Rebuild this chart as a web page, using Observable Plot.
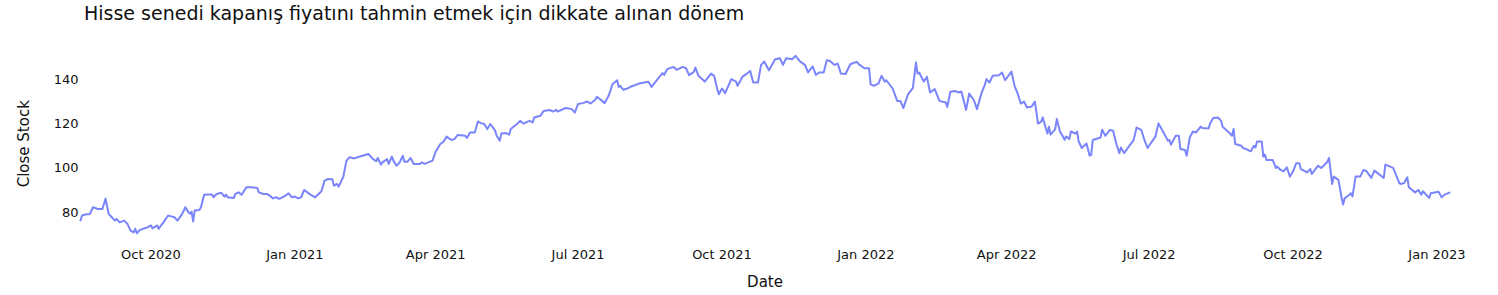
<!DOCTYPE html>
<html><head><meta charset="utf-8">
<script src="https://cdn.jsdelivr.net/npm/d3@7"></script>
<script src="https://cdn.jsdelivr.net/npm/@observablehq/plot@0.6"></script>
<style>
body{margin:0;background:#fff;font-family:"DejaVu Sans",Verdana,sans-serif;}
#title{height:30px;padding-left:84px;font-size:19px;line-height:27px;color:#111;white-space:nowrap;}
</style></head><body>
<div id="title">Hisse senedi kapanış fiyatını tahmin etmek için dikkate alınan dönem</div>
<div id="chart"></div>
<script>
const dates = [
"2020-08-17","2020-08-18","2020-08-20","2020-08-23","2020-08-25","2020-08-28","2020-08-31","2020-09-02","2020-09-04","2020-09-06",
"2020-09-08","2020-09-09","2020-09-11","2020-09-14","2020-09-16","2020-09-18","2020-09-20","2020-09-21","2020-09-22","2020-09-24",
"2020-09-29","2020-10-01","2020-10-02","2020-10-05","2020-10-06","2020-10-09","2020-10-12","2020-10-14","2020-10-16","2020-10-18",
"2020-10-21","2020-10-23","2020-10-25","2020-10-26","2020-10-27","2020-10-28","2020-10-29","2020-11-01","2020-11-02","2020-11-04",
"2020-11-07","2020-11-09","2020-11-10","2020-11-12","2020-11-15","2020-11-17","2020-11-18","2020-11-19","2020-11-23","2020-11-24",
"2020-11-26","2020-11-28","2020-12-01","2020-12-04","2020-12-08","2020-12-09","2020-12-12","2020-12-14","2020-12-16","2020-12-18",
"2020-12-20","2020-12-22","2020-12-25","2020-12-28","2020-12-30","2021-01-01","2021-01-03","2021-01-05","2021-01-07","2021-01-09",
"2021-01-12","2021-01-14","2021-01-18","2021-01-20","2021-01-22","2021-01-25","2021-01-26","2021-01-28","2021-01-29","2021-02-01",
"2021-02-03","2021-02-05","2021-02-08","2021-02-10","2021-02-17","2021-02-20","2021-02-22","2021-02-23","2021-02-25","2021-02-26",
"2021-03-01","2021-03-02","2021-03-04","2021-03-05","2021-03-07","2021-03-09","2021-03-11","2021-03-12","2021-03-14","2021-03-16",
"2021-03-18","2021-03-22","2021-03-23","2021-03-25","2021-03-30","2021-04-01","2021-04-04","2021-04-06","2021-04-08","2021-04-11",
"2021-04-13","2021-04-15","2021-04-20","2021-04-21","2021-04-23","2021-04-26","2021-04-28","2021-04-30","2021-05-02","2021-05-04",
"2021-05-06","2021-05-09","2021-05-10","2021-05-12","2021-05-13","2021-05-16","2021-05-18","2021-05-19","2021-05-23","2021-05-25",
"2021-05-27","2021-05-31","2021-06-02","2021-06-03","2021-06-07","2021-06-09","2021-06-13","2021-06-15","2021-06-17","2021-06-18",
"2021-06-23","2021-06-25","2021-06-27","2021-06-29","2021-07-01","2021-07-04","2021-07-07","2021-07-09","2021-07-12","2021-07-13",
"2021-07-15","2021-07-18","2021-07-20","2021-07-21","2021-07-23","2021-07-26","2021-07-27","2021-07-28","2021-07-30","2021-08-02",
"2021-08-04","2021-08-09","2021-08-15","2021-08-17","2021-08-20","2021-08-22","2021-08-24","2021-08-25","2021-08-27","2021-08-31",
"2021-09-02","2021-09-06","2021-09-08","2021-09-10","2021-09-13","2021-09-14","2021-09-16","2021-09-20","2021-09-24","2021-09-26",
"2021-09-28","2021-09-29","2021-10-01","2021-10-03","2021-10-07","2021-10-10","2021-10-11","2021-10-14","2021-10-17","2021-10-19",
"2021-10-21","2021-10-24","2021-10-26","2021-10-28","2021-10-31","2021-11-04","2021-11-07","2021-11-09","2021-11-11","2021-11-15",
"2021-11-17","2021-11-20","2021-11-23","2021-11-25","2021-11-28","2021-11-30","2021-12-02","2021-12-05","2021-12-07","2021-12-09",
"2021-12-12","2021-12-14","2021-12-16","2021-12-19","2021-12-22","2021-12-26","2021-12-28","2021-12-31","2022-01-03","2022-01-04",
"2022-01-06","2022-01-09","2022-01-11","2022-01-13","2022-01-14","2022-01-18","2022-01-21","2022-01-23","2022-01-25","2022-01-26",
"2022-01-28","2022-01-31","2022-02-02","2022-02-03","2022-02-04","2022-02-07","2022-02-09","2022-02-11","2022-02-14","2022-02-17",
"2022-02-21","2022-02-22","2022-02-24","2022-02-27","2022-03-01","2022-03-03","2022-03-06","2022-03-08","2022-03-11","2022-03-13",
"2022-03-16","2022-03-18","2022-03-19","2022-03-21","2022-03-23","2022-03-27","2022-03-29","2022-03-31","2022-04-04","2022-04-06",
"2022-04-08","2022-04-10","2022-04-12","2022-04-14","2022-04-17","2022-04-19","2022-04-21","2022-04-23","2022-04-24","2022-04-27",
"2022-04-28","2022-04-29","2022-05-02","2022-05-03","2022-05-05","2022-05-07","2022-05-08","2022-05-09","2022-05-11","2022-05-12",
"2022-05-15","2022-05-16","2022-05-17","2022-05-19","2022-05-22","2022-05-24","2022-05-25","2022-05-26","2022-05-31","2022-06-01",
"2022-06-03","2022-06-06","2022-06-08","2022-06-10","2022-06-12","2022-06-13","2022-06-15","2022-06-20","2022-06-21","2022-06-23",
"2022-06-26","2022-06-28","2022-06-30","2022-07-05","2022-07-07","2022-07-09","2022-07-13","2022-07-14","2022-07-15","2022-07-18",
"2022-07-20","2022-07-21","2022-07-24","2022-07-25","2022-07-27","2022-07-29","2022-07-31","2022-08-03","2022-08-04","2022-08-08",
"2022-08-09","2022-08-11","2022-08-14","2022-08-16","2022-08-17","2022-08-21","2022-08-23","2022-08-24","2022-08-25","2022-08-29",
"2022-08-30","2022-09-01","2022-09-04","2022-09-06","2022-09-07","2022-09-08","2022-09-11","2022-09-12","2022-09-13","2022-09-14",
"2022-09-18","2022-09-20","2022-09-21","2022-09-23","2022-09-25","2022-09-27","2022-09-29","2022-10-01","2022-10-03","2022-10-05",
"2022-10-06","2022-10-10","2022-10-12","2022-10-13","2022-10-17","2022-10-19","2022-10-23","2022-10-24","2022-10-26","2022-10-27",
"2022-10-30","2022-11-01","2022-11-02","2022-11-03","2022-11-06","2022-11-07","2022-11-08","2022-11-10","2022-11-13","2022-11-15",
"2022-11-17","2022-11-20","2022-11-22","2022-11-28","2022-11-29","2022-12-04","2022-12-08","2022-12-09","2022-12-11","2022-12-13",
"2022-12-14","2022-12-18","2022-12-20","2022-12-22","2022-12-23","2022-12-27","2022-12-28","2023-01-02","2023-01-04","2023-01-06",
"2023-01-09"
];
const close = [
76.4,78.7,79.1,79.4,82.4,81.6,81.6,86.2,79.4,77.9,
76.4,77.2,75.6,76.4,74.9,71.9,71.1,72.7,70.7,72.2,
73.4,74.2,72.9,74.2,72.7,75.6,78.7,78.3,77.9,76.4,
79.4,82.4,80.1,79.4,80.4,76.0,80.9,81.2,82.4,88.0,
88.1,88.1,86.9,88.4,88.9,87.2,88.1,86.9,86.6,88.4,
89.1,88.0,91.4,91.4,91.1,89.1,88.4,88.4,87.6,86.4,
86.9,86.2,87.2,88.7,86.9,87.2,86.4,86.9,90.2,89.1,
87.6,86.9,89.6,94.4,95.1,95.0,92.1,92.9,91.7,96.2,
103.4,104.9,104.4,104.9,106.4,104.1,103.1,104.6,101.6,102.6,
104.1,101.9,105.2,103.4,101.1,102.6,105.6,102.9,102.9,104.6,
101.9,101.9,102.6,101.9,103.4,107.4,110.9,111.9,114.2,112.7,
113.1,114.9,114.6,113.6,116.1,116.1,121.0,120.3,119.9,117.6,
119.9,116.9,114.6,112.4,115.6,115.8,115.1,117.6,119.9,121.3,
120.1,121.3,120.6,122.8,123.6,125.8,126.2,125.5,126.3,125.5,
127.1,126.9,126.6,125.1,128.9,129.3,130.0,129.1,130.8,132.1,
131.1,129.3,131.8,133.4,137.8,139.6,136.6,137.1,135.3,136.0,
136.8,138.1,138.9,136.6,139.3,141.1,142.8,142.0,144.6,145.6,
144.3,145.6,145.0,141.9,143.4,145.3,141.6,139.0,142.6,141.6,
135.6,133.3,135.9,133.8,140.1,139.0,137.1,141.1,142.6,143.8,
138.6,138.6,146.5,148.0,144.1,149.1,149.5,146.5,149.5,149.1,
150.6,148.0,146.5,143.1,145.8,142.0,143.1,143.1,148.6,148.3,
146.5,147.1,142.6,142.4,146.8,147.9,146.5,145.0,145.0,137.8,
137.1,138.1,141.6,139.0,139.6,136.0,130.3,130.3,127.1,129.3,
133.4,136.0,147.6,142.6,143.1,139.0,141.1,134.1,135.6,130.3,
129.6,127.6,134.4,134.8,134.1,134.5,126.2,133.6,130.7,126.6,
134.1,137.5,140.1,138.6,141.6,141.9,143.1,139.6,143.5,137.1,
133.6,129.1,130.0,127.3,127.8,130.0,120.1,121.0,122.8,115.6,
118.7,115.1,117.6,122.1,116.5,114.2,112.8,114.3,113.1,116.5,
115.6,116.5,112.0,109.1,111.1,105.6,106.1,112.7,113.8,117.3,
114.6,117.2,116.9,111.1,106.8,109.3,106.8,111.6,112.4,118.3,
117.2,112.7,109.1,114.2,120.1,117.6,112.4,112.7,110.6,114.6,
114.6,108.6,108.2,105.6,113.8,116.5,116.1,118.7,118.1,117.9,
120.1,122.6,122.8,121.3,118.7,116.1,114.6,117.6,110.9,110.1,
109.1,108.6,107.6,110.1,109.3,112.0,112.0,105.2,106.1,103.7,
103.7,100.1,100.7,99.2,98.6,100.4,96.2,98.6,102.2,102.2,
99.6,98.1,99.6,97.4,101.1,100.1,102.9,104.6,92.9,96.2,
94.7,86.9,83.6,86.4,88.0,88.7,87.3,96.2,96.2,99.2,
98.6,95.6,98.9,95.6,101.6,100.1,93.2,92.9,93.3,95.9,
91.4,89.1,90.2,88.1,89.6,86.6,88.7,89.4,86.9,88.1,
89.0
];
const xTicks = ["2020-10-01","2021-01-01","2021-04-01","2021-07-01","2021-10-01","2022-01-01","2022-04-01","2022-07-01","2022-10-01","2023-01-01"];
const yTicks = [80, 100, 120, 140];

const data = dates.map((d, i) => ({Date: new Date(d), Close: close[i]}));

const chart = Plot.plot({
  width: 1498,
  height: 265,
  marginLeft: 80,
  marginRight: 49,
  marginTop: 20,
  marginBottom: 58.5,
  style: {fontFamily: "DejaVu Sans, Verdana, sans-serif", fontSize: "13px", color: "#111", background: "#fff"},
  x: {
    type: "utc",
    domain: [new Date("2020-08-17"), new Date("2023-01-09")],
    ticks: xTicks.map(d => new Date(d)),
    tickFormat: d3.utcFormat("%b %Y"),
    tickSize: 0,
    tickPadding: 13,
    label: "Date",
    labelAnchor: "center",
    labelArrow: "none",
    labelOffset: 50
  },
  y: {
    domain: [69, 153],
    ticks: yTicks,
    tickSize: 0,
    tickPadding: 2,
    label: "Close Stock",
    labelAnchor: "center",
    labelArrow: "none",
    labelOffset: 62
  },
  marks: [
    Plot.lineY(data, {x: "Date", y: "Close", stroke: "#636efa", strokeWidth: 2, strokeOpacity: 0.85})
  ]
});
chart.querySelectorAll('[aria-label="x-axis label"] text, [aria-label="y-axis label"] text').forEach(t => {
  t.style.fontSize = "15px";
  t.textContent = t.textContent.replace(/\s*[→↑←↓]\s*/g, "").trim();
});
document.getElementById("chart").appendChild(chart);
</script>
</body></html>
